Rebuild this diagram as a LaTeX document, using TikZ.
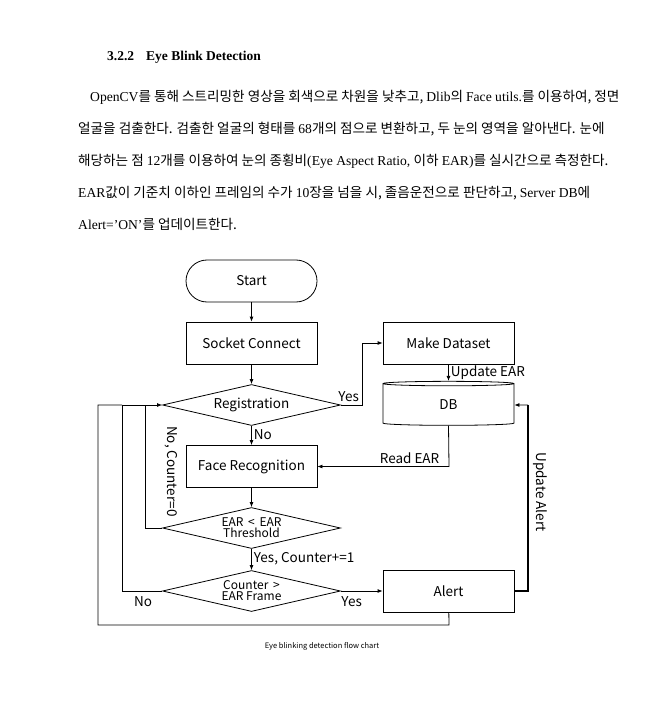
\documentclass[tikz,border=0pt]{standalone}
\usepackage{fontspec}
\setmainfont{Liberation Serif}
\newfontfamily\kr{Noto Sans CJK KR}
\newfontfamily\dg{Noto Sans CJK KR}
\usetikzlibrary{shapes.geometric,arrows.meta}
\begin{document}
\begin{tikzpicture}[x=1pt,y=-1pt,
  box/.style={draw,line width=0.8pt,minimum width=131pt,minimum height=42pt,font=\dg\fontsize{13.5}{15}\selectfont},
  dia/.style={draw,line width=0.8pt,diamond,aspect=4.3,minimum width=178pt,minimum height=41pt,inner sep=0pt,font=\dg\fontsize{12}{12}\selectfont,align=center},
  lbl/.style={font=\dg\fontsize{13.5}{15}\selectfont,inner sep=2pt},
  ln/.style={line width=0.8pt},
  ar/.style={line width=0.8pt,-{Latex[length=5pt,width=4pt]}},
  para/.style={anchor=base west,inner sep=0pt,font=\fontsize{13.6}{14}\selectfont}]
\useasboundingbox (0,0) rectangle (670,708);
\node[anchor=base west,inner sep=0pt,font=\bfseries\fontsize{13.5}{14}\selectfont] (h) at (107,61) {3.2.2\hspace{12pt}Eye Blink Detection};
\node[para] (p1) at (90,102) {OpenCV{\kr 를 통해 스트리밍한 영상을 회색으로 차원을 낮추고, }Dlib{\kr 의 }Face utils.{\kr 를 이용하여, 정면}};
\node[para] (p2) at (78,134) {\kr 얼굴을 검출한다. 검출한 얼굴의 형태를 {\rmfamily 68}개의 점으로 변환하고, 두 눈의 영역을 알아낸다. 눈에};
\node[para] (p3) at (78,166) {\kr 해당하는 점 {\rmfamily 12}개를 이용하여 눈의 종횡비{\rmfamily (Eye Aspect Ratio, }이하 {\rmfamily EAR)}를 실시간으로 측정한다.};
\node[para] (p4) at (78,198) {EAR{\kr 값이 기준치 이하인 프레임의 수가 }10{\kr 장을 넘을 시, 졸음운전으로 판단하고, }Server DB{\kr 에}};
\node[para] (p5) at (78,230) {Alert=’ON’{\kr 를 업데이트한다.}};

\node[box,rounded corners=21pt] (start) at (251.5,281) {Start};
\node[box] (sock) at (251.5,343) {Socket Connect};
\node[dia] (reg) at (251.5,405) {\fontsize{13.5}{15}\selectfont Registration};
\node[box] (face) at (251.5,466.5) {Face Recognition};
\node[dia] (ear) at (251.5,528) {EAR \,<\, EAR\\[-1pt]Threshold};
\node[dia] (cnt) at (251.5,591) {Counter \,>\\[-1pt]EAR Frame};
\node[box] (make) at (448.5,343) {Make Dataset};
\node[box] (alert) at (448.5,591) {Alert};
\node[draw,line width=0.8pt,cylinder,shape border rotate=90,aspect=0.18,minimum width=131pt,minimum height=44pt,font=\dg\fontsize{13.5}{15}\selectfont] (db) at (448.5,405) {DB};

\coordinate (j1) at (362,405);
\coordinate (j2) at (362,343);
\coordinate (c1) at (528,591);
\coordinate (c2) at (528,405);
\coordinate (r1) at (449,466.5);
\coordinate (a1) at (449,625);
\coordinate (o1) at (98,625);
\coordinate (o2) at (98,405);
\coordinate (o3) at (122,591);
\coordinate (o4) at (122,405);
\coordinate (o5) at (145,528);
\coordinate (o6) at (145,405);

\draw[ar] (start) -- (sock);
\draw[ar] (sock) -- (reg);
\draw[ar] (reg) -- node[lbl,right,pos=0.45]{No} (face);
\draw[ar] (face) -- (ear);
\draw[ar] (ear) -- node[lbl,right,pos=0.45]{Yes, Counter+=1} (cnt);
\draw[ar] (reg.east) -- (j1) -- (j2) -- (make);
\node[lbl,anchor=south east] (yes1) at (361,404) {Yes};
\draw[ar] (make) -- node[lbl,right,pos=0.5]{Update EAR} (db);
\draw[ar] (db.bottom) -- (r1) -- node[lbl,above,pos=0.3]{Read EAR} (face);
\draw[ar] (cnt.east) -- (alert);
\node[lbl,anchor=north east] (yes2) at (364,594) {Yes};
\draw[line width=2pt] (alert.east) -- (c1) -- (c2);
\draw[ar] (c2) -- (db.east);
\node[lbl,rotate=-90] (ua) at (540,492) {Update Alert};
\draw[ln] (alert) -- (a1) -- (o1) -- (o2) -- (o4);
\draw[ln] (cnt.west) -- (o3) -- (o4) -- (o6);
\node[lbl,anchor=north] (no2) at (143,594) {No};
\draw[ln] (ear.west) -- (o5) -- (o6);
\draw[ar] (o6) -- (reg.west);
\node[lbl,rotate=-90,anchor=south west] (nc) at (163,424) {No, Counter=0};
\node[font=\dg\fontsize{7.5}{8}\selectfont] (cap) at (322,646) {Eye blinking detection flow chart};
\end{tikzpicture}
\end{document}
